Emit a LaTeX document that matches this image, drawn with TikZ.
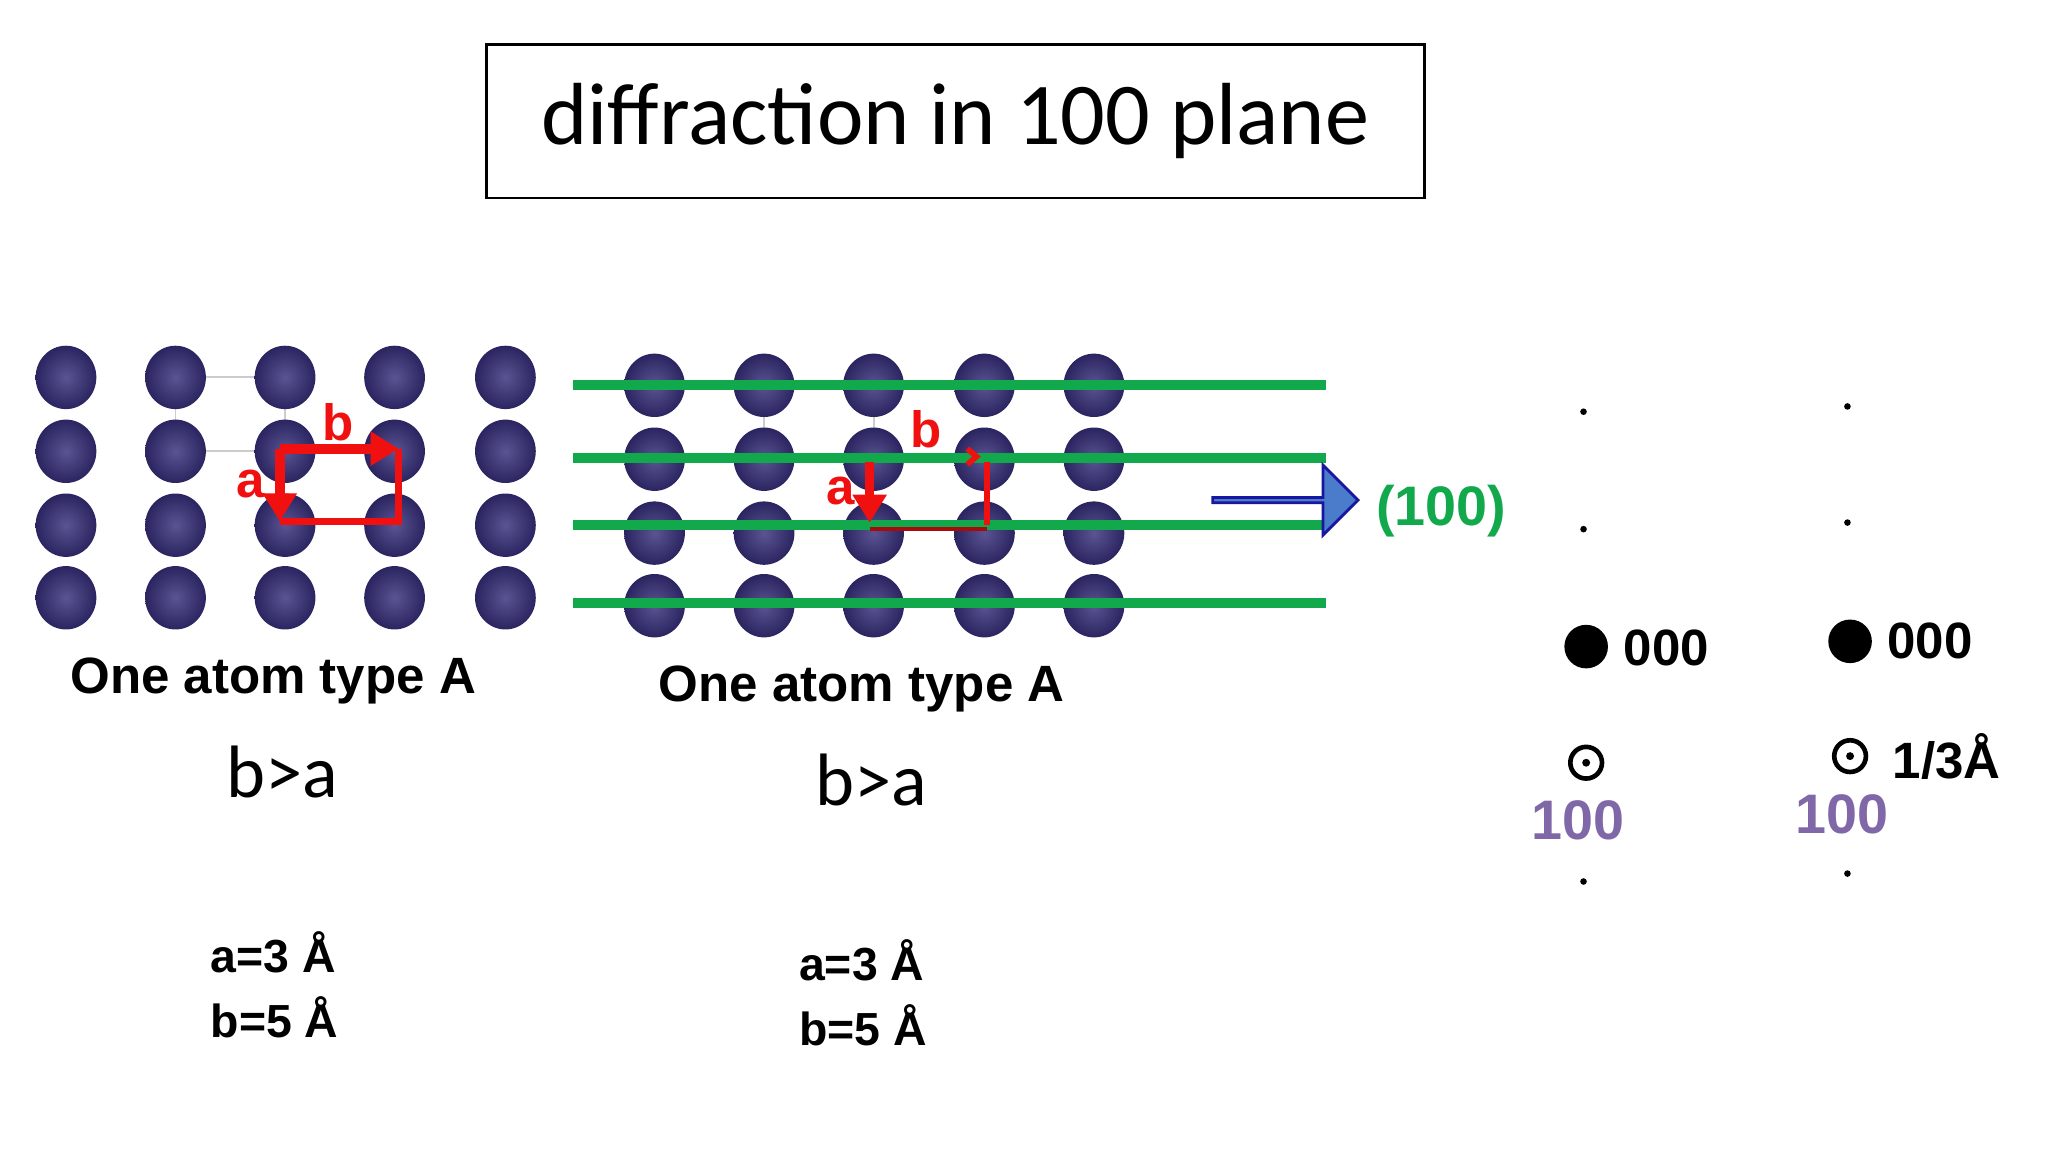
\documentclass[tikz,border=0pt]{standalone}
\usepackage{fontspec}
\setmainfont{Carlito}
\newfontfamily\arialb{Liberation Sans}[BoldFont={Liberation Sans Bold}]
\usetikzlibrary{shapes.arrows,arrows.meta}
\definecolor{atomc}{HTML}{3E3680}
\definecolor{atomd}{HTML}{2A2460}
\definecolor{gline}{HTML}{12A84C}
\definecolor{redv}{HTML}{F01010}
\definecolor{bluea}{HTML}{4A7CCB}
\definecolor{purp}{HTML}{8068A8}
\tikzset{
  atom/.style={ellipse,minimum width=0.46cm,minimum height=0.48cm,inner sep=0pt,
    shade,inner color=atomc!85!white,outer color=atomd,draw=none},
  lbl/.style={font=\arialb\bfseries\fontsize{11}{13}\selectfont},
  spot/.style={circle,fill=black,inner sep=0pt,minimum size=0.05cm},
  redl/.style={font=\arialb\bfseries\fontsize{11}{13}\selectfont,text=redv},
}
\usetikzlibrary{shapes.geometric}
\begin{document}
\begin{tikzpicture}[x=0.01cm,y=-0.01cm]
\useasboundingbox (0,0) rectangle (1552,873);
\fill[white] (0,0) rectangle (1552,873);
\node[draw,line width=0.6pt,minimum width=7.1cm,minimum height=1.16cm,font=\fontsize{19}{22}\selectfont] (title) at (724,92) {diffraction in 100 plane};
% left lattice
\draw[gray!40,line width=0.4pt] (133,286) -- (216,286) (133,342) -- (216,342) (133,286) -- (133,342) (216,286) -- (216,342);
\foreach \i/\x in {1/50,2/133,3/216,4/299,5/383}
  \foreach \j/\y in {1/286,2/342,3/398,4/453}
    \node[atom] (L\i\j) at (\x,\y) {};
% middle lattice
\draw[gray!40,line width=0.4pt] (579,292) -- (579,348) (662,292) -- (662,348);
\foreach \i/\x in {1/496,2/579,3/662,4/746,5/829}
  \foreach \j/\y in {1/292,2/348,3/404,4/459}
    \node[atom] (M\i\j) at (\x,\y) {};
\foreach \k/\y in {1/292,2/347,3/398,4/457}{
  \coordinate (gs\k) at (434,\y); \coordinate (ge\k) at (1005,\y);
  \draw[gline,line width=2.2pt] (gs\k) -- (ge\k);}
% red vectors left
\coordinate (r1) at (212,340); \coordinate (r2) at (302,340);
\coordinate (r3) at (302,395); \coordinate (r4) at (212,395);
\draw[redv,line width=1.6pt] (r2) -- (r3) -- (r4);
\draw[redv,line width=2.2pt,-{Triangle[length=6pt,width=7pt]}] (r1) -- (r2);
\draw[redv,line width=2.2pt,-{Triangle[length=6pt,width=7pt]}] (r1) -- (r4);
\node[redl] (bL) at (256,320) {b};
\node[redl] (aL) at (190,367) {a};
% red vectors middle
\coordinate (m1) at (659,350); \coordinate (m2) at (659,396);
\coordinate (m3) at (748,350); \coordinate (m4) at (748,398);
\draw[redv,line width=2pt,-{Triangle[length=6pt,width=7pt]}] (m1) -- (m2);
\draw[redv,line width=1.4pt] (m3) -- (m4);
\draw[redv!70!black,line width=0.8pt] (659,401) -- (748,401);
\draw[redv,line width=1.2pt] (733,340) -- (740,346) -- (733,352);
\node[redl] (bM) at (702,325) {b};
\node[redl] (aM) at (637,372) {a};
% blue arrow
\node[single arrow,draw=atomd!60!blue,fill=bluea,line width=0.6pt,minimum height=1.1cm,minimum width=0.53cm,
  single arrow head extend=0.13cm,single arrow head indent=0pt,inner sep=0pt] (arr) at (973,379) {};
\node[lbl,text=gline,font=\arialb\bfseries\fontsize{12}{14}\selectfont] (p100) at (1092,387) {(100)};
% captions
\node[lbl] (c1) at (207,516) {One atom type A};
\node[lbl] (c2) at (653,522) {One atom type A};
\node[font=\fontsize{16}{19}\selectfont] (ba1) at (214,585) {b>a};
\node[font=\fontsize{16}{19}\selectfont] (ba2) at (660,591) {b>a};
\node[lbl,align=left,font=\arialb\bfseries\fontsize{10}{14}\selectfont] (ab1) at (208,746) {a=3 Å\\b=5 Å};
\node[lbl,align=left,font=\arialb\bfseries\fontsize{10}{14}\selectfont] (ab2) at (654,752) {a=3 Å\\b=5 Å};
% diffraction pattern 1
\node[spot] (d11) at (1200,312) {};
\node[spot] (d12) at (1200,401) {};
\node[circle,fill=black,inner sep=0pt,minimum size=0.33cm] (d13) at (1202,490) {};
\node[lbl,anchor=west] (z1) at (1218,491) {000};
\node[circle,draw=black,line width=1pt,minimum size=0.24cm,inner sep=0pt] (d14) at (1202,578) {};
\node[spot,minimum size=0.06cm] at (d14) {};
\node[lbl,text=purp,font=\arialb\bfseries\fontsize{12}{14}\selectfont] (h1) at (1196,622) {100};
\node[spot] (d15) at (1200,668) {};
% diffraction pattern 2
\node[spot] (d21) at (1400,308) {};
\node[spot] (d22) at (1400,396) {};
\node[circle,fill=black,inner sep=0pt,minimum size=0.33cm] (d23) at (1402,486) {};
\node[lbl,anchor=west] (z2) at (1418,486) {000};
\node[circle,draw=black,line width=1pt,minimum size=0.24cm,inner sep=0pt] (d24) at (1402,573) {};
\node[spot,minimum size=0.06cm] at (d24) {};
\node[lbl,anchor=west] (t2) at (1422,573) {1/3Å};
\node[lbl,text=purp,font=\arialb\bfseries\fontsize{12}{14}\selectfont] (h2) at (1396,617) {100};
\node[spot] (d25) at (1400,662) {};
\end{tikzpicture}
\end{document}
